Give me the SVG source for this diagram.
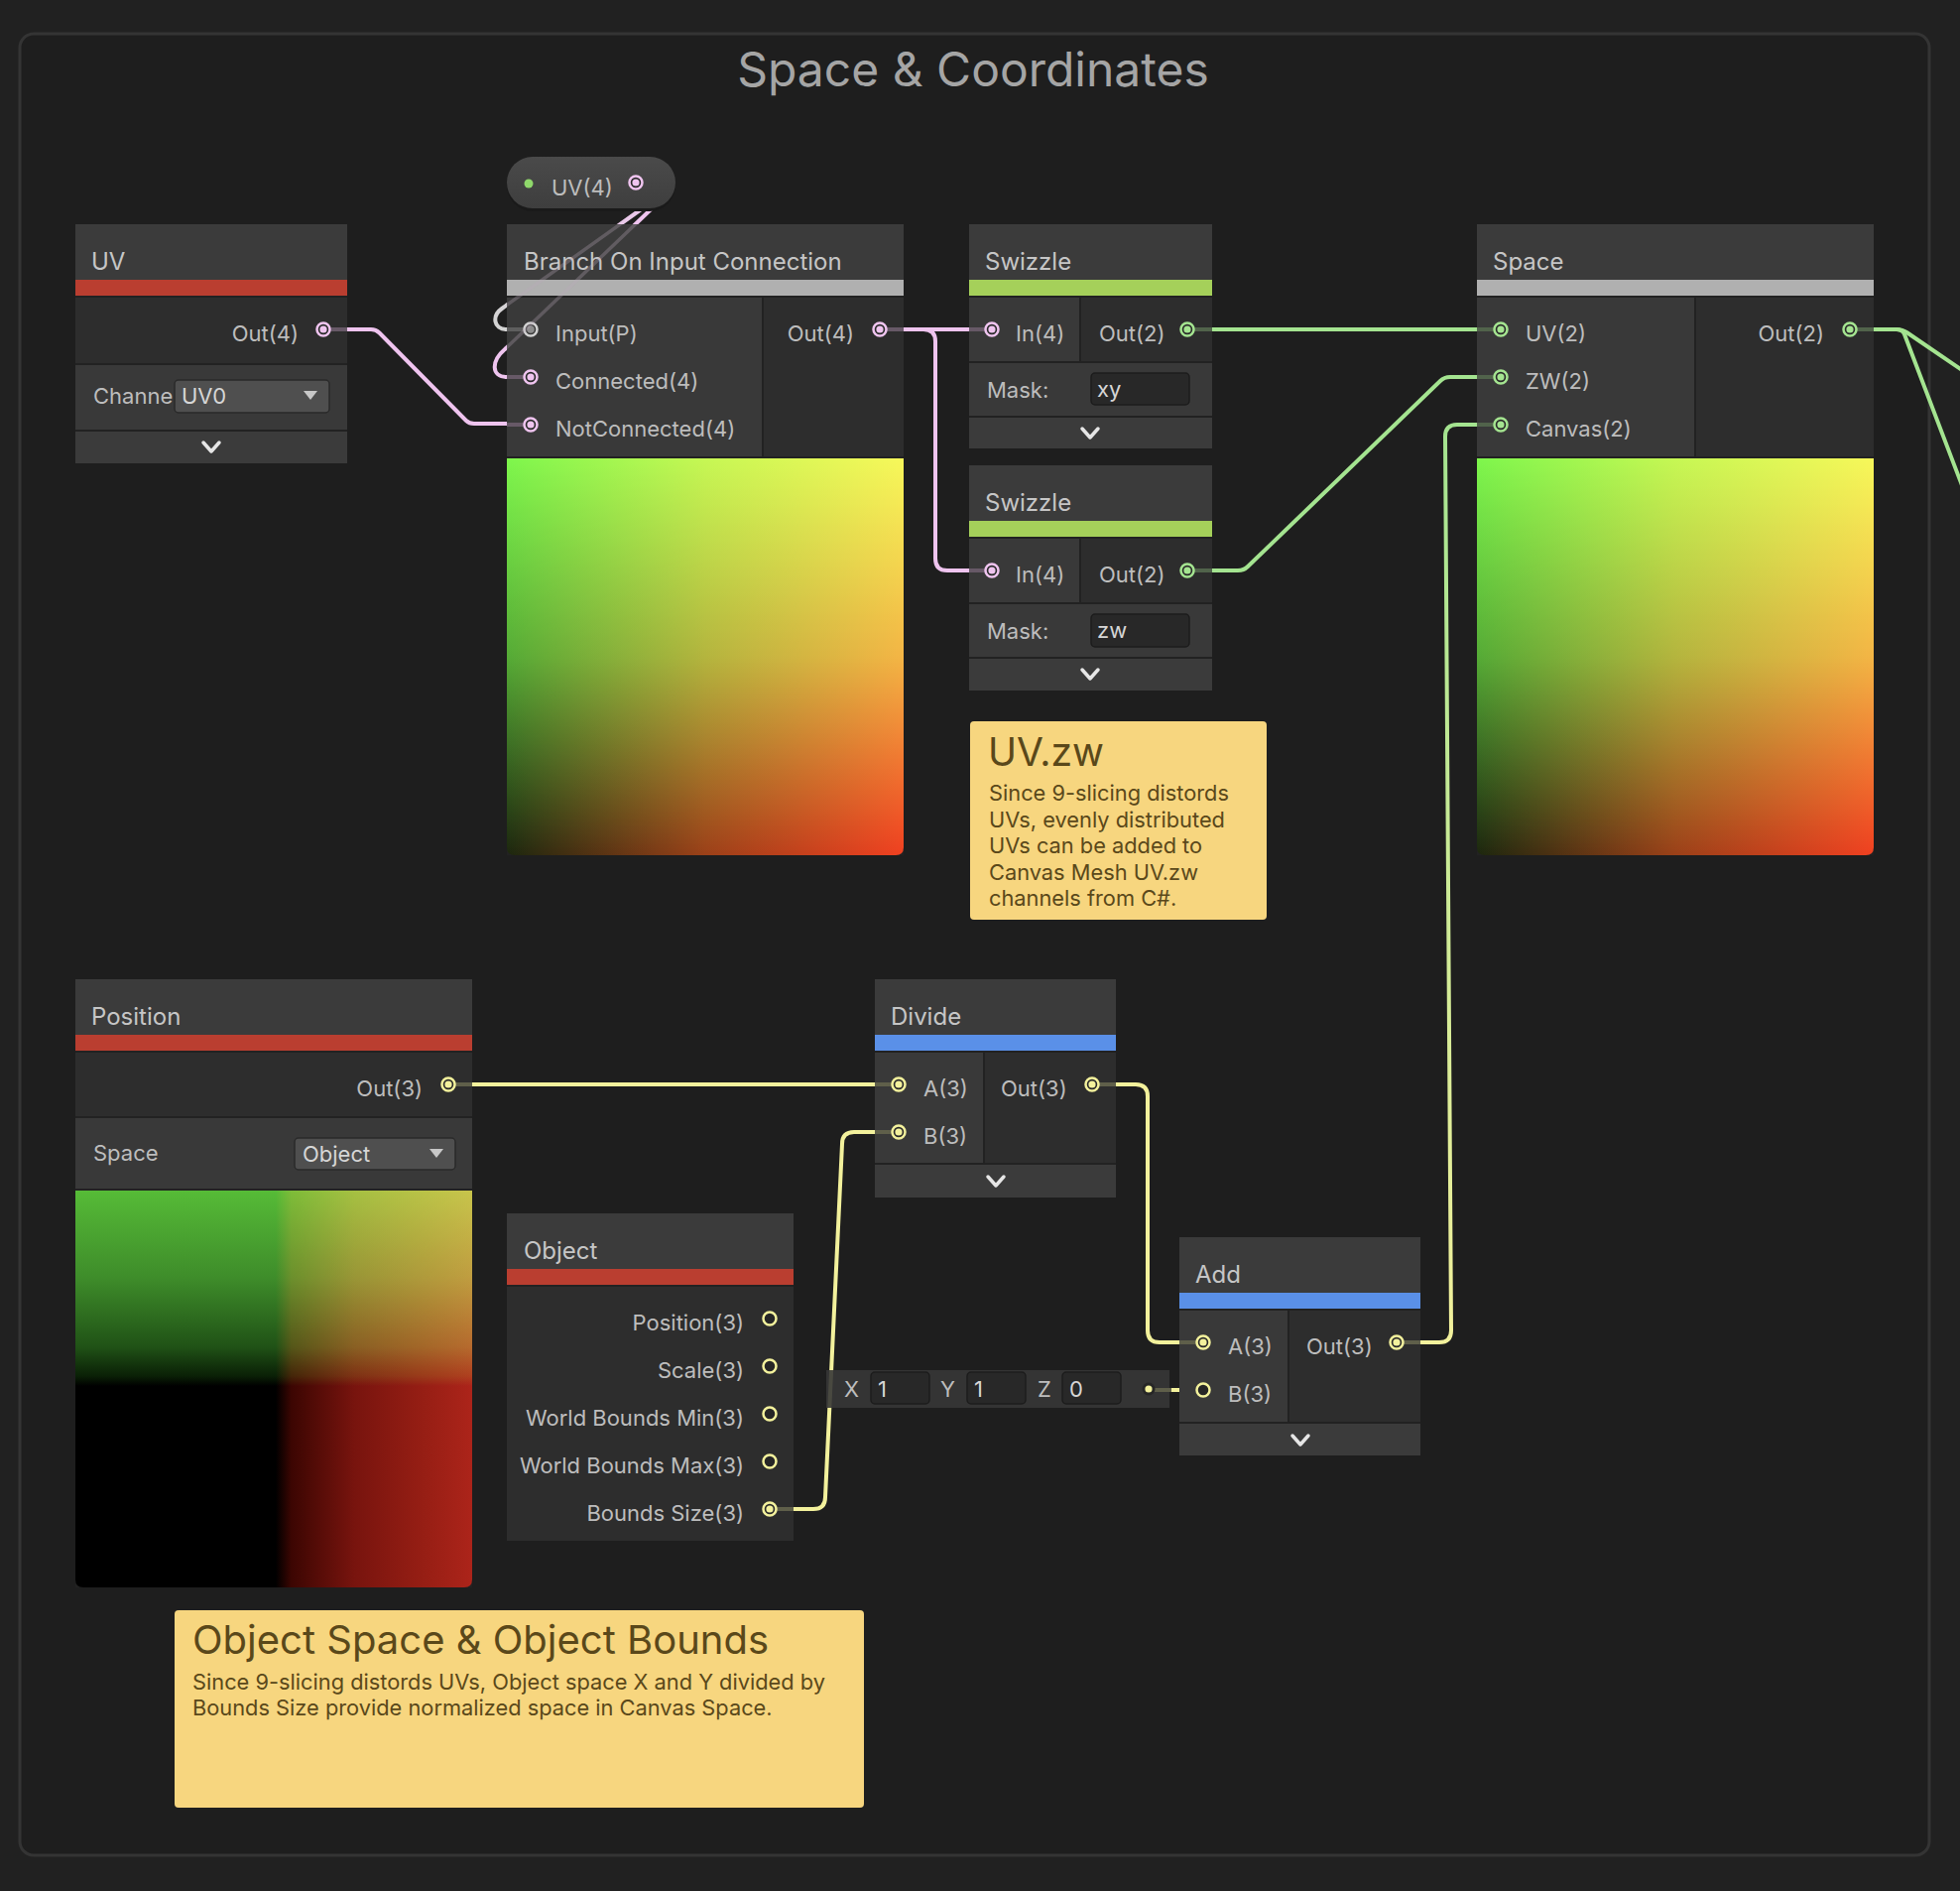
<svg xmlns="http://www.w3.org/2000/svg" width="1976" height="1906" viewBox="0 0 1976 1906">
<defs>
<style>
.title{font-family:Inter,"Noto Sans","Liberation Sans",sans-serif;font-size:48px;fill:#a5a5a5}
.nbase{fill:#222222}
.hdr{fill:#3b3b3b}
.cl{fill:#393939}
.cr{fill:#2d2d2d}
.th{font-family:Inter,"Noto Sans","Liberation Sans",sans-serif;font-size:24px;fill:#c6c6c6}
.tl{font-family:Inter,"Noto Sans","Liberation Sans",sans-serif;font-size:22px;fill:#bdbdbd}
.tv{font-family:Inter,"Noto Sans","Liberation Sans",sans-serif;font-size:22px;fill:#d6d6d6}
.end{text-anchor:end}
.chev{fill:none;stroke:#e6e6e6;stroke-width:3.5;stroke-linecap:round;stroke-linejoin:round}
.drop{fill:#4f4f4f;stroke:#2a2a2a;stroke-width:1.5}
.fld{fill:#282828;stroke:#1c1c1c;stroke-width:1.5}
.tri{fill:#c8c8c8}
.e{fill:none;stroke-width:4;stroke-linejoin:round}
.pink{stroke:#efc4ef}
.green{stroke:#a4e490}
.yellow{stroke:#f3f19c}
.stub{stroke-width:4}
.sp{stroke:#675967}
.sg{stroke:#51634b}
.sy{stroke:#5f5f4a}
.sgr{stroke:#5e5e5e}
.note{fill:#f7d67f}
.nt{font-family:Inter,"Noto Sans","Liberation Sans",sans-serif;fill:#5a481a}
.ghost{fill:none;stroke:#b8a8b8;stroke-opacity:0.3;stroke-width:3.5}
</style>
<g id="pP"><circle r="6.5" fill="#2a2a2a" stroke="#efc4ef" stroke-width="2.5"/><circle r="3.6" fill="#efc4ef"/></g>
<g id="pG"><circle r="6.5" fill="#2a2a2a" stroke="#a4e490" stroke-width="2.5"/><circle r="3.6" fill="#a4e490"/></g>
<g id="pY"><circle r="6.5" fill="#2a2a2a" stroke="#f3f19c" stroke-width="2.5"/><circle r="3.6" fill="#f3f19c"/></g>
<g id="pYe"><circle r="6.5" fill="#262626" stroke="#f3f19c" stroke-width="2.5"/></g>
<g id="pGr"><circle r="6.5" fill="#3a3a3a" stroke="#d2d2d2" stroke-width="2.5"/><circle r="3.8" fill="#8c8c8c"/></g>
<linearGradient id="uvH" x1="0" y1="0" x2="1" y2="0">
<stop offset="0" stop-color="rgb(28,38,14)"/><stop offset="0.5" stop-color="rgb(155,64,24)"/><stop offset="1" stop-color="rgb(240,64,32)"/>
</linearGradient>
<linearGradient id="uvV" x1="0" y1="1" x2="0" y2="0">
<stop offset="0" stop-color="#000"/><stop offset="0.5" stop-color="rgb(64,156,42)"/><stop offset="1" stop-color="rgb(110,245,66)"/>
</linearGradient>
<linearGradient id="posR" x1="0" y1="0" x2="1" y2="0">
<stop offset="0" stop-color="#000"/><stop offset="0.08" stop-color="rgb(60,6,2)"/><stop offset="0.4" stop-color="rgb(120,20,14)"/><stop offset="0.75" stop-color="rgb(150,30,20)"/><stop offset="1" stop-color="rgb(172,36,26)"/>
</linearGradient>
<linearGradient id="posG" x1="0" y1="0" x2="0" y2="1">
<stop offset="0" stop-color="rgb(86,187,55)"/><stop offset="0.45" stop-color="rgb(62,140,42)"/><stop offset="0.8" stop-color="rgb(32,82,22)"/><stop offset="0.95" stop-color="rgb(10,32,6)"/><stop offset="1" stop-color="#000"/>
</linearGradient>
<linearGradient id="pillG" x1="0" y1="0" x2="0" y2="1">
<stop offset="0" stop-color="#4a4a4a"/><stop offset="1" stop-color="#3e3e3e"/>
</linearGradient>
<linearGradient id="e2g" gradientUnits="userSpaceOnUse" x1="675" y1="193" x2="505" y2="330">
<stop offset="0" stop-color="#efc4ef"/><stop offset="1" stop-color="#d4d4d4"/>
</linearGradient>
<linearGradient id="e7g" gradientUnits="userSpaceOnUse" x1="0" y1="1353" x2="0" y2="428">
<stop offset="0" stop-color="#f3f19c"/><stop offset="1" stop-color="#a4e490"/>
</linearGradient>
<clipPath id="cBranchPrev"><path d="M511,462 H911 V854 Q911,862 903,862 H519 Q511,862 511,854 Z"/></clipPath>
<clipPath id="cSpacePrev"><path d="M1489,462 H1889 V854 Q1889,862 1881,862 H1497 Q1489,862 1489,854 Z"/></clipPath>
<clipPath id="cPosPrev"><path d="M76,1200 H476 V1592 Q476,1600 468,1600 H84 Q76,1600 76,1592 Z"/></clipPath>
<clipPath id="cBranchNode"><rect x="511" y="226" width="400" height="236"/></clipPath>
</defs>

<rect x="0" y="0" width="1976" height="1906" fill="#212121"/>
<rect x="20" y="34" width="1925" height="1836" rx="14" fill="#1e1e1e" stroke="#343434" stroke-width="3"/>
<text class="title" x="981" y="87" text-anchor="middle">Space &amp; Coordinates</text>

<g id="connectors">
<path class="e pink" d="M350,332 H374 Q379,332 382.5,335.5 L470,424 Q473,427 478,427 H511"/>
<path class="e" stroke="url(#e2g)" d="M650,184 H666 Q678,184 673,192 L506,311 C496,318 497,332 511,332"/>
<path class="e pink" d="M650,184 H666 Q680,184 675,193 L509,352 C495,364 495,380 511,380"/>
<path class="e pink" d="M911,332 H977"/>
<path class="e pink" d="M911,332 H931 Q943,332 943,344 V563 Q943,575 955,575 H977"/>
<path class="e green" d="M1222,332 H1489"/>
<path class="e green" d="M1222,575 H1248 Q1254,575 1258,571 L1452,384 Q1456,380 1462,380 H1489"/>
<path class="e" stroke="url(#e7g)" d="M1432,1353 H1451 Q1463,1353 1463,1341 L1457,440 Q1457,428 1469,428 H1489"/>
<path class="e yellow" d="M476,1093 H882"/>
<path class="e yellow" d="M800,1521 H820 Q832,1521 832,1509 L849,1153 Q849,1141 861,1141 H882"/>
<path class="e yellow" d="M1125,1093 H1145 Q1157,1093 1157,1105 V1341 Q1157,1353 1169,1353 H1189"/>
<path class="e yellow" d="M1181,1401 H1206"/>
<path class="e green" d="M1889,332 H1912 Q1918,332 1923,335.5 L2000,388"/>
<path class="e green" d="M1912,332 Q1918,332 1920,337 L2000,547"/>
</g>

<g id="node-uv">
<rect class="nbase" x="76" y="226" width="274" height="241"/>
<rect class="hdr" x="76" y="226" width="274" height="56"/>
<rect fill="#ba3e30" x="76" y="282" width="274" height="16"/>
<rect class="cr" x="76" y="300" width="274" height="66"/>
<rect class="cl" x="76" y="368" width="274" height="65"/>
<rect class="hdr" x="76" y="435" width="274" height="32"/>
<text class="th" x="92" y="272">UV</text>
<text class="tl end" x="301" y="344">Out(4)</text>
<line class="stub sp" x1="333" y1="332" x2="350" y2="332"/>
<use href="#pP" x="326" y="332"/>
<text class="tl" x="94" y="407">Channe</text>
<rect class="drop" x="176" y="383" width="156" height="33" rx="4"/>
<text class="tv" x="183" y="407">UV0</text>
<path class="tri" d="M306,394 L320,394 L313,403 Z"/>
<path class="chev" d="M205,446 L213,455 L221,446"/>
</g>

<g id="node-uv-property">
<rect x="511" y="161" width="170" height="52" rx="26" fill="#1a1a1a"/>
<rect x="511" y="158" width="170" height="52" rx="26" fill="url(#pillG)"/>
<circle cx="533" cy="185" r="4.5" fill="#8fd86b"/>
<text class="tl" x="556" y="197" fill="#c4c4c4">UV(4)</text>
<use href="#pP" x="641" y="184"/>
</g>

<g id="node-branch">
<rect class="nbase" x="511" y="226" width="400" height="636"/>
<rect class="hdr" x="511" y="226" width="400" height="56"/>
<rect fill="#b0b0b0" x="511" y="282" width="400" height="16"/>
<rect class="cl" x="511" y="300" width="257" height="160"/>
<rect class="cr" x="770" y="300" width="141" height="160"/>
<g clip-path="url(#cBranchPrev)" style="isolation:isolate">
<rect x="511" y="462" width="400" height="400" fill="#000"/>
<rect x="511" y="462" width="400" height="400" fill="url(#uvH)"/>
<rect x="511" y="462" width="400" height="400" fill="url(#uvV)" style="mix-blend-mode:screen"/>
</g>
<text class="th" x="528" y="272">Branch On Input Connection</text>
<text class="tl" x="560" y="344">Input(P)</text>
<text class="tl" x="560" y="392">Connected(4)</text>
<text class="tl" x="560" y="440">NotConnected(4)</text>
<text class="tl end" x="861" y="344">Out(4)</text>
<line class="stub sgr" x1="511" y1="332" x2="528" y2="332"/>
<line class="stub sp" x1="511" y1="380" x2="528" y2="380"/>
<line class="stub sp" x1="511" y1="428" x2="528" y2="428"/>
<line class="stub sp" x1="894" y1="332" x2="911" y2="332"/>
<use href="#pGr" x="535" y="332"/>
<use href="#pP" x="535" y="380"/>
<use href="#pP" x="535" y="428"/>
<use href="#pP" x="887" y="332"/>
</g>

<g id="connector-overlay" clip-path="url(#cBranchNode)">
<path class="ghost" d="M673,192 L506,311"/>
<path class="ghost" d="M675,193 L509,352"/>
</g>

<g id="node-swizzle-xy">
<rect class="nbase" x="977" y="226" width="245" height="226"/>
<rect class="hdr" x="977" y="226" width="245" height="56"/>
<rect fill="#a5d05a" x="977" y="282" width="245" height="16"/>
<rect class="cl" x="977" y="300" width="111" height="64"/>
<rect class="cr" x="1090" y="300" width="132" height="64"/>
<rect class="cl" x="977" y="366" width="245" height="53"/>
<rect class="hdr" x="977" y="421" width="245" height="31"/>
<text class="th" x="993" y="272">Swizzle</text>
<text class="tl" x="1024" y="344">In(4)</text>
<text class="tl" x="1108" y="344">Out(2)</text>
<line class="stub sp" x1="977" y1="332" x2="993" y2="332"/>
<line class="stub sg" x1="1204" y1="332" x2="1222" y2="332"/>
<use href="#pP" x="1000" y="332"/>
<use href="#pG" x="1197" y="332"/>
<text class="tl" x="995" y="401">Mask:</text>
<rect class="fld" x="1100" y="376" width="99" height="32" rx="4"/>
<text class="tv" x="1106" y="400">xy</text>
<path class="chev" d="M1091,432 L1099,441 L1107,432"/>
</g>

<g id="node-swizzle-zw">
<rect class="nbase" x="977" y="469" width="245" height="227"/>
<rect class="hdr" x="977" y="469" width="245" height="56"/>
<rect fill="#a5d05a" x="977" y="525" width="245" height="16"/>
<rect class="cl" x="977" y="543" width="111" height="64"/>
<rect class="cr" x="1090" y="543" width="132" height="64"/>
<rect class="cl" x="977" y="609" width="245" height="53"/>
<rect class="hdr" x="977" y="664" width="245" height="32"/>
<text class="th" x="993" y="515">Swizzle</text>
<text class="tl" x="1024" y="587">In(4)</text>
<text class="tl" x="1108" y="587">Out(2)</text>
<line class="stub sp" x1="977" y1="575" x2="993" y2="575"/>
<line class="stub sg" x1="1204" y1="575" x2="1222" y2="575"/>
<use href="#pP" x="1000" y="575"/>
<use href="#pG" x="1197" y="575"/>
<text class="tl" x="995" y="644">Mask:</text>
<rect class="fld" x="1100" y="619" width="99" height="33" rx="4"/>
<text class="tv" x="1106" y="643">zw</text>
<path class="chev" d="M1091,675 L1099,684 L1107,675"/>
</g>

<g id="node-space">
<rect class="nbase" x="1489" y="226" width="400" height="636"/>
<rect class="hdr" x="1489" y="226" width="400" height="56"/>
<rect fill="#b0b0b0" x="1489" y="282" width="400" height="16"/>
<rect class="cl" x="1489" y="300" width="219" height="160"/>
<rect class="cr" x="1710" y="300" width="179" height="160"/>
<g clip-path="url(#cSpacePrev)" style="isolation:isolate">
<rect x="1489" y="462" width="400" height="400" fill="#000"/>
<rect x="1489" y="462" width="400" height="400" fill="url(#uvH)"/>
<rect x="1489" y="462" width="400" height="400" fill="url(#uvV)" style="mix-blend-mode:screen"/>
</g>
<text class="th" x="1505" y="272">Space</text>
<text class="tl" x="1538" y="344">UV(2)</text>
<text class="tl" x="1538" y="392">ZW(2)</text>
<text class="tl" x="1538" y="440">Canvas(2)</text>
<text class="tl end" x="1839" y="344">Out(2)</text>
<line class="stub sg" x1="1489" y1="332" x2="1506" y2="332"/>
<line class="stub sg" x1="1489" y1="380" x2="1506" y2="380"/>
<line class="stub sg" x1="1489" y1="428" x2="1506" y2="428"/>
<line class="stub sg" x1="1872" y1="332" x2="1889" y2="332"/>
<use href="#pG" x="1513" y="332"/>
<use href="#pG" x="1513" y="380"/>
<use href="#pG" x="1513" y="428"/>
<use href="#pG" x="1865" y="332"/>
</g>

<g id="note-uvzw">
<rect class="note" x="978" y="727" width="299" height="200" rx="4"/>
<text class="nt" x="996" y="772" font-size="39">UV.zw</text>
<text class="nt" font-size="21.8">
<tspan x="997" y="807">Since 9-slicing distords</tspan>
<tspan x="997" y="834">UVs, evenly distributed</tspan>
<tspan x="997" y="860">UVs can be added to</tspan>
<tspan x="997" y="887">Canvas Mesh UV.zw</tspan>
<tspan x="997" y="913">channels from C#.</tspan>
</text>
</g>

<g id="node-position">
<rect class="nbase" x="76" y="987" width="400" height="613"/>
<rect class="hdr" x="76" y="987" width="400" height="56"/>
<rect fill="#ba3e30" x="76" y="1043" width="400" height="16"/>
<rect class="cr" x="76" y="1061" width="400" height="64"/>
<rect class="cl" x="76" y="1127" width="400" height="71"/>
<g clip-path="url(#cPosPrev)" style="isolation:isolate">
<rect x="76" y="1200" width="400" height="400" fill="#000"/>
<rect x="278" y="1200" width="198" height="400" fill="url(#posR)"/>
<rect x="76" y="1200" width="400" height="197" fill="url(#posG)" style="mix-blend-mode:screen"/>
</g>
<text class="th" x="92" y="1033">Position</text>
<text class="tl end" x="426" y="1105">Out(3)</text>
<line class="stub sy" x1="459" y1="1093" x2="476" y2="1093"/>
<use href="#pY" x="452" y="1093"/>
<text class="tl" x="94" y="1170">Space</text>
<rect class="drop" x="297" y="1147" width="162" height="32" rx="4"/>
<text class="tv" x="305" y="1171">Object</text>
<path class="tri" d="M433,1158 L447,1158 L440,1167 Z"/>
</g>

<g id="node-divide">
<rect class="nbase" x="882" y="987" width="243" height="220"/>
<rect class="hdr" x="882" y="987" width="243" height="56"/>
<rect fill="#5a90e8" x="882" y="1043" width="243" height="16"/>
<rect class="cl" x="882" y="1061" width="109" height="111"/>
<rect class="cr" x="993" y="1061" width="132" height="111"/>
<rect class="hdr" x="882" y="1174" width="243" height="33"/>
<text class="th" x="898" y="1033">Divide</text>
<text class="tl" x="931" y="1105">A(3)</text>
<text class="tl" x="931" y="1153">B(3)</text>
<text class="tl" x="1009" y="1105">Out(3)</text>
<line class="stub sy" x1="882" y1="1093" x2="899" y2="1093"/>
<line class="stub sy" x1="882" y1="1141" x2="899" y2="1141"/>
<line class="stub sy" x1="1108" y1="1093" x2="1125" y2="1093"/>
<use href="#pY" x="906" y="1093"/>
<use href="#pY" x="906" y="1141"/>
<use href="#pY" x="1101" y="1093"/>
<path class="chev" d="M996,1186 L1004,1195 L1012,1186"/>
</g>

<g id="node-object">
<rect class="nbase" x="511" y="1223" width="289" height="330"/>
<rect class="hdr" x="511" y="1223" width="289" height="56"/>
<rect fill="#ba3e30" x="511" y="1279" width="289" height="16"/>
<rect class="cr" x="511" y="1297" width="289" height="256"/>
<text class="th" x="528" y="1269">Object</text>
<text class="tl end" x="750" y="1341">Position(3)</text>
<text class="tl end" x="750" y="1389">Scale(3)</text>
<text class="tl end" x="750" y="1437">World Bounds Min(3)</text>
<text class="tl end" x="750" y="1485">World Bounds Max(3)</text>
<text class="tl end" x="750" y="1533">Bounds Size(3)</text>
<use href="#pYe" x="776" y="1329"/>
<use href="#pYe" x="776" y="1377"/>
<use href="#pYe" x="776" y="1425"/>
<use href="#pYe" x="776" y="1473"/>
<line class="stub sy" x1="783" y1="1521" x2="800" y2="1521"/>
<use href="#pY" x="776" y="1521"/>
</g>

<g id="node-add">
<rect class="nbase" x="1189" y="1247" width="243" height="220"/>
<rect class="hdr" x="1189" y="1247" width="243" height="56"/>
<rect fill="#5a90e8" x="1189" y="1303" width="243" height="16"/>
<rect class="cl" x="1189" y="1321" width="109" height="112"/>
<rect class="cr" x="1300" y="1321" width="132" height="112"/>
<rect class="hdr" x="1189" y="1435" width="243" height="32"/>
<text class="th" x="1205" y="1293">Add</text>
<text class="tl" x="1238" y="1365">A(3)</text>
<text class="tl" x="1238" y="1413">B(3)</text>
<text class="tl" x="1317" y="1365">Out(3)</text>
<line class="stub sy" x1="1189" y1="1353" x2="1206" y2="1353"/>
<line class="stub sy" x1="1415" y1="1353" x2="1432" y2="1353"/>
<use href="#pY" x="1213" y="1353"/>
<use href="#pYe" x="1213" y="1401"/>
<use href="#pY" x="1408" y="1353"/>
<path class="chev" d="M1303,1447 L1311,1456 L1319,1447"/>
</g>

<g id="node-add-b-input">
<rect x="833" y="1381" width="346" height="38" fill="#363636" fill-opacity="0.9"/>
<text class="tl" x="851" y="1408">X</text>
<rect class="fld" x="878" y="1383" width="59" height="32" rx="4"/>
<text class="tv" x="885" y="1408">1</text>
<text class="tl" x="948" y="1408">Y</text>
<rect class="fld" x="975" y="1383" width="59" height="32" rx="4"/>
<text class="tv" x="982" y="1408">1</text>
<text class="tl" x="1046" y="1408">Z</text>
<rect class="fld" x="1071" y="1383" width="59" height="32" rx="4"/>
<text class="tv" x="1078" y="1408">0</text>
<line class="stub sy" x1="1164" y1="1401" x2="1181" y2="1401"/>
<circle cx="1158" cy="1400" r="6.5" fill="#262626"/>
<circle cx="1158" cy="1400" r="3.6" fill="#f3f19c"/>
</g>

<g id="note-object-space">
<rect class="note" x="176" y="1623" width="695" height="199" rx="4"/>
<text class="nt" x="194" y="1667" font-size="40">Object Space &amp; Object Bounds</text>
<text class="nt" font-size="21.8">
<tspan x="194" y="1703">Since 9-slicing distords UVs, Object space X and Y divided by</tspan>
<tspan x="194" y="1729">Bounds Size provide normalized space in Canvas Space.</tspan>
</text>
</g>
</svg>
